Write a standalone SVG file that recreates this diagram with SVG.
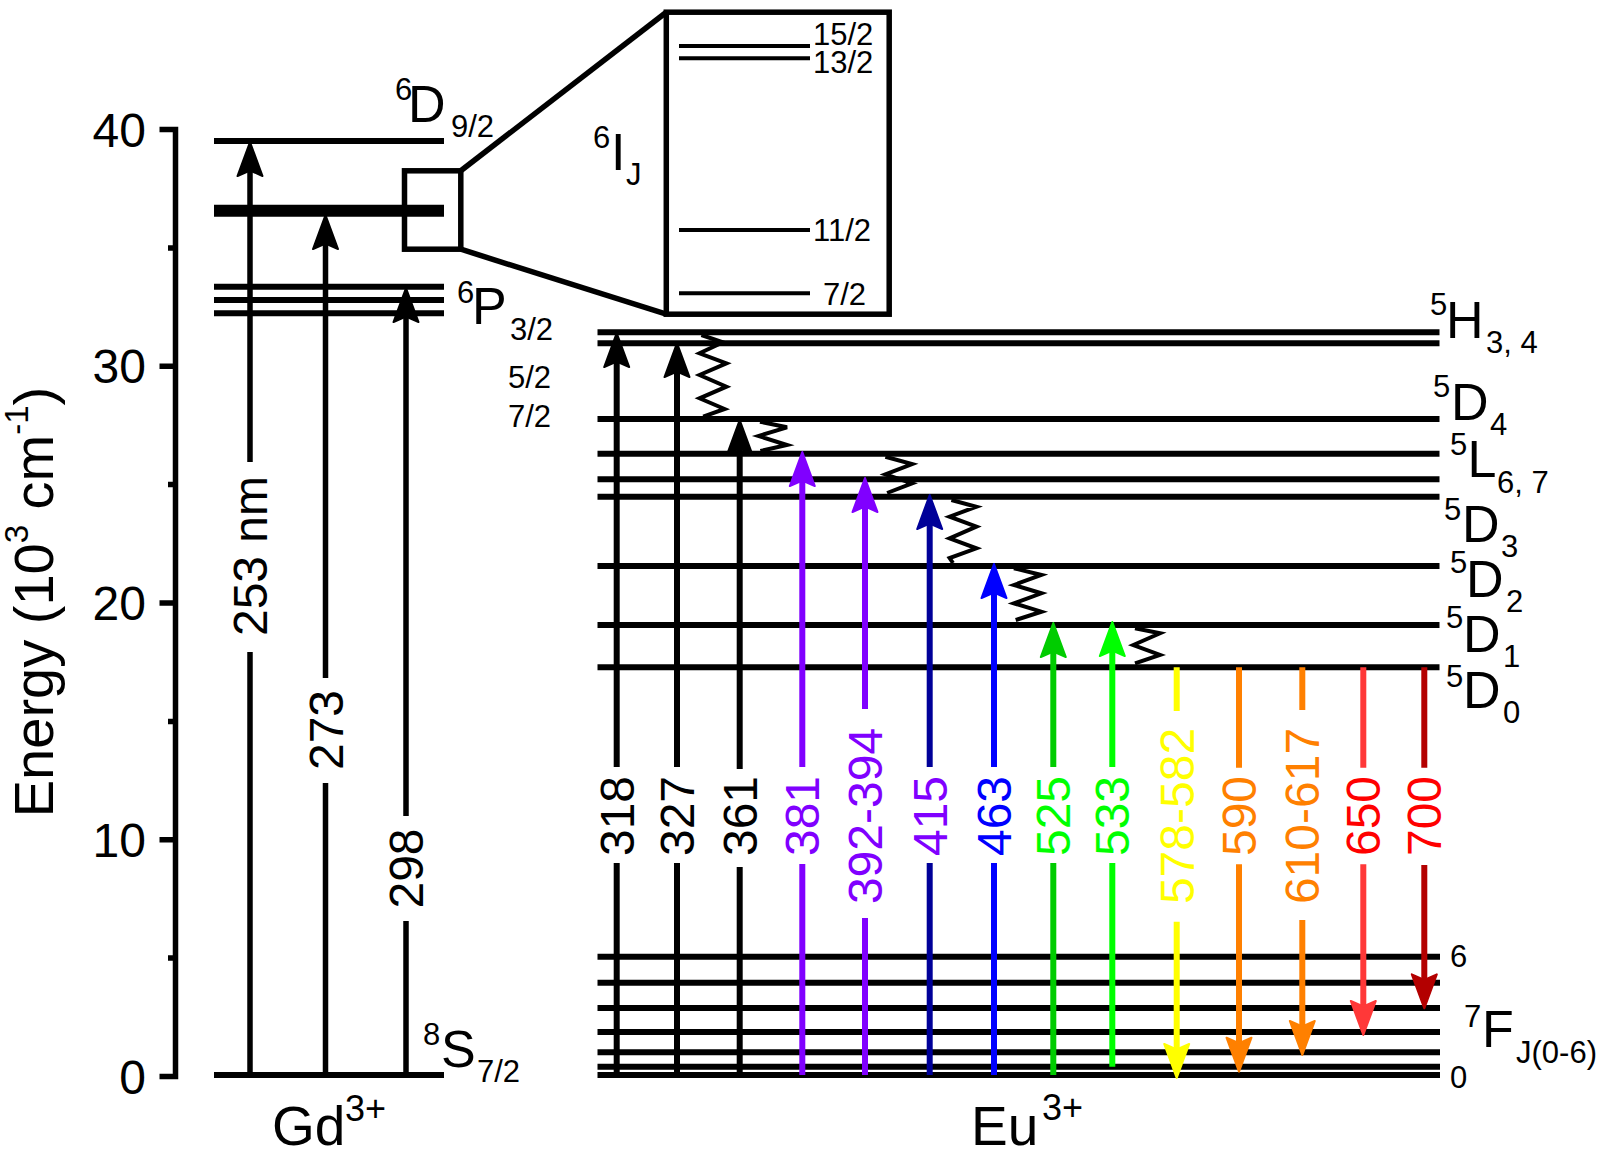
<svg xmlns="http://www.w3.org/2000/svg" width="1600" height="1149" viewBox="0 0 1600 1149">
<style>
text{font-family:"Liberation Sans",Arial,Helvetica,sans-serif}
.lv{stroke:#000;stroke-width:6;fill:none}
.big{font-size:52px}
.sm{font-size:31px}
.wl{font-size:48px;text-anchor:middle}
.sh{stroke-width:6;fill:none}
.gs{stroke:#000;stroke-width:5.5;fill:none}
.zz{stroke:#000;stroke-width:4;fill:none}
.ax{stroke:#000;stroke-width:5.5;fill:none}
.tk{font-size:48px;text-anchor:end}
.bx{stroke:#000;stroke-width:5.5;fill:none}
.il{stroke:#000;stroke-width:4;fill:none}
.ion{font-size:55px}
.ionsup{font-size:36px}
</style>
<defs>
<path id="hu" d="M0,0 L12.5,34 L0,28.5 L-12.5,34 Z" stroke-width="2" stroke-linejoin="round"/>
</defs>
<rect width="1600" height="1149" fill="#fff"/>

<g id="axis">
<path class="ax" d="M159.5,129.5 H175.5 V1076.5 H159.5"/>
<path class="ax" d="M159.5,839.75 H175.5 M159.5,603 H175.5 M159.5,366.25 H175.5 M168,958.1 H175.5 M168,721.4 H175.5 M168,484.6 H175.5 M168,247.9 H175.5"/>
<text class="tk" x="146" y="1093.5">0</text>
<text class="tk" x="146" y="856.75">10</text>
<text class="tk" x="146" y="620">20</text>
<text class="tk" x="146" y="383.25">30</text>
<text class="tk" x="146" y="146.5">40</text>
<text transform="translate(53,602) rotate(-90)" text-anchor="middle" font-size="56">Energy (10<tspan font-size="33" dy="-25">3</tspan><tspan dy="25"> cm</tspan><tspan font-size="33" dy="-25">-1</tspan><tspan dy="25">)</tspan></text>
</g>

<g id="gd-8S72">
<line class="lv" x1="214" y1="1075" x2="444" y2="1075"/>
<text class="big"><tspan class="sm" x="423" y="1045">8</tspan><tspan x="441" y="1067">S</tspan><tspan class="sm" x="477" y="1082">7/2</tspan></text>
</g>
<g id="gd-6P">
<line class="lv" x1="214" y1="286.7" x2="444" y2="286.7"/>
<line class="lv" x1="214" y1="300" x2="444" y2="300"/>
<line class="lv" x1="214" y1="313.3" x2="444" y2="313.3"/>
<text class="big"><tspan class="sm" x="457" y="303">6</tspan><tspan x="472" y="324">P</tspan><tspan class="sm" x="510" y="340">3/2</tspan></text>
<text class="sm" x="508" y="388">5/2</text>
<text class="sm" x="508" y="427">7/2</text>
</g>
<g id="gd-6I">
<line x1="214" y1="210.7" x2="444" y2="210.7" stroke="#000" stroke-width="12"/>
<rect class="bx" x="404.5" y="170.8" width="56.3" height="78.4"/>
</g>
<g id="gd-6D92">
<line class="lv" x1="214" y1="141" x2="444" y2="141"/>
<text class="big"><tspan class="sm" x="395" y="100">6</tspan><tspan x="408" y="121.7">D</tspan><tspan class="sm" x="451" y="136.7">9/2</tspan></text>
</g>
<g id="gd-label">
<text class="ion"><tspan x="272" y="1145">Gd</tspan><tspan class="ionsup" x="345" y="1121">3+</tspan></text>
</g>

<g id="inset-6IJ">
<line class="bx" x1="460.8" y1="170.8" x2="666.3" y2="12.2"/>
<line class="bx" x1="460.8" y1="249.2" x2="666.3" y2="314.2"/>
<rect class="bx" x="666.3" y="12.2" width="222.9" height="302"/>
<line class="il" x1="679" y1="46" x2="810" y2="46"/>
<line class="il" x1="679" y1="58.3" x2="810" y2="58.3"/>
<line class="il" x1="679" y1="230" x2="810" y2="230"/>
<line class="il" x1="679" y1="293.3" x2="810" y2="293.3"/>
<text class="sm" x="813" y="45">15/2</text>
<text class="sm" x="813" y="72.7">13/2</text>
<text class="sm" x="813" y="240.7">11/2</text>
<text class="sm" x="823" y="305">7/2</text>
<text class="big"><tspan class="sm" x="593" y="148.3">6</tspan><tspan x="611" y="170">I</tspan><tspan class="sm" x="626" y="185">J</tspan></text>
</g>

<g id="eu-5H34">
<line class="lv" x1="597.5" y1="332.3" x2="1439.5" y2="332.3"/>
<line class="lv" x1="597.5" y1="343.3" x2="1439.5" y2="343.3"/>
<text class="big"><tspan class="sm" x="1430" y="315">5</tspan><tspan x="1446" y="338">H</tspan><tspan class="sm" x="1486" y="353">3, 4</tspan></text>
</g>
<g id="eu-5D4">
<line class="lv" x1="597.5" y1="419" x2="1439.5" y2="419"/>
<text class="big"><tspan class="sm" x="1433" y="397">5</tspan><tspan x="1451" y="420">D</tspan><tspan class="sm" x="1490" y="435">4</tspan></text>
</g>
<g id="eu-5L67">
<line class="lv" x1="597.5" y1="453.7" x2="1439.5" y2="453.7"/>
<line class="lv" x1="597.5" y1="479.3" x2="1439.5" y2="479.3"/>
<text class="big"><tspan class="sm" x="1450" y="455">5</tspan><tspan x="1467.5" y="476.7">L</tspan><tspan class="sm" x="1497" y="492.7">6, 7</tspan></text>
</g>
<g id="eu-5D3">
<line class="lv" x1="597.5" y1="496.7" x2="1439.5" y2="496.7"/>
<text class="big"><tspan class="sm" x="1444" y="520">5</tspan><tspan x="1462" y="541.7">D</tspan><tspan class="sm" x="1501" y="557">3</tspan></text>
</g>
<g id="eu-5D2">
<line class="lv" x1="597.5" y1="566" x2="1439.5" y2="566"/>
<text class="big"><tspan class="sm" x="1450" y="573">5</tspan><tspan x="1466" y="596.7">D</tspan><tspan class="sm" x="1506" y="611.7">2</tspan></text>
</g>
<g id="eu-5D1">
<line class="lv" x1="597.5" y1="625" x2="1439.5" y2="625"/>
<text class="big"><tspan class="sm" x="1446" y="628">5</tspan><tspan x="1463" y="651.7">D</tspan><tspan class="sm" x="1503" y="666.7">1</tspan></text>
</g>
<g id="eu-5D0">
<line class="lv" x1="597.5" y1="667.3" x2="1439.5" y2="667.3"/>
<text class="big"><tspan class="sm" x="1446" y="686.7">5</tspan><tspan x="1463" y="708.3">D</tspan><tspan class="sm" x="1503" y="723">0</tspan></text>
</g>
<g id="eu-7F">
<line class="lv" x1="597.5" y1="956.7" x2="1440" y2="956.7"/>
<line class="lv" x1="597.5" y1="982.7" x2="1440" y2="982.7"/>
<line class="lv" x1="597.5" y1="1008" x2="1440" y2="1008"/>
<line class="lv" x1="597.5" y1="1032" x2="1440" y2="1032"/>
<line class="lv" x1="597.5" y1="1052.3" x2="1440" y2="1052.3"/>
<line class="lv" x1="597.5" y1="1066.7" x2="1440" y2="1066.7"/>
<line class="lv" x1="597.5" y1="1075" x2="1440" y2="1075"/>
<text class="sm" x="1450" y="967.3">6</text>
<text class="sm" x="1450" y="1088.3">0</text>
<text class="big"><tspan class="sm" x="1464" y="1026.7">7</tspan><tspan x="1482" y="1046.7">F</tspan><tspan font-size="31" x="1516" y="1063">J(0-6)</tspan></text>
</g>
<g id="eu-label">
<text class="ion"><tspan x="971" y="1145">Eu</tspan><tspan class="ionsup" x="1042" y="1120">3+</tspan></text>
</g>

<g id="connectors">
<g id="gd-253">
<path class="gs" d="M250,1075 V652 M250,462 V170"/>
<use href="#hu" x="250" y="142" fill="#000" stroke="#000"/>
<text class="wl" transform="translate(267,556) rotate(-90)">253 nm</text>
</g>
<g id="gd-273">
<path class="gs" d="M325.5,1075 V783 M325.5,678 V243"/>
<use href="#hu" x="325.5" y="215" fill="#000" stroke="#000"/>
<text class="wl" transform="translate(342.5,730) rotate(-90)">273</text>
</g>
<g id="gd-298">
<path class="gs" d="M406,1075 V921 M406,816 V316"/>
<use href="#hu" x="406" y="288" fill="#000" stroke="#000"/>
<text class="wl" transform="translate(423,868.5) rotate(-90)">298</text>
</g>

<g id="eu-318">
<path class="sh" stroke="#000" d="M616.7,1075 V863 M616.7,767 V360"/>
<use href="#hu" x="616.7" y="333" fill="#000" stroke="#000"/>
<text class="wl" transform="translate(633.7,816) rotate(-90)">318</text>
</g>
<g id="eu-327">
<path class="sh" stroke="#000" d="M677,1075 V863 M677,767 V370"/>
<use href="#hu" x="677" y="343" fill="#000" stroke="#000"/>
<text class="wl" transform="translate(694,816) rotate(-90)">327</text>
</g>
<g id="eu-361">
<path class="sh" stroke="#000" d="M739.7,1075 V867 M739.7,769 V447"/>
<use href="#hu" x="739.7" y="420" fill="#000" stroke="#000"/>
<text class="wl" transform="translate(756.7,816) rotate(-90)">361</text>
</g>
<g id="eu-381">
<path class="sh" stroke="#8000FF" d="M802.3,1075 V864 M802.3,767 V479"/>
<use href="#hu" x="802.3" y="452" fill="#8000FF" stroke="#8000FF"/>
<text class="wl" fill="#8000FF" transform="translate(819.3,816) rotate(-90)">381</text>
</g>
<g id="eu-392">
<path class="sh" stroke="#8000FF" d="M865,1075 V918 M865,709 V505"/>
<use href="#hu" x="865" y="478" fill="#8000FF" stroke="#8000FF"/>
<text class="wl" fill="#8000FF" transform="translate(882,816) rotate(-90)">392-394</text>
</g>
<g id="eu-415">
<path class="sh" stroke="#000099" d="M929.7,1075 V863 M929.7,767 V522"/>
<use href="#hu" x="929.7" y="495" fill="#000099" stroke="#000099"/>
<text class="wl" fill="#8000FF" transform="translate(946.7,816) rotate(-90)">415</text>
</g>
<g id="eu-463">
<path class="sh" stroke="#0000FF" d="M994,1075 V863 M994,767 V591"/>
<use href="#hu" x="994" y="564" fill="#0000FF" stroke="#0000FF"/>
<text class="wl" fill="#0000FF" transform="translate(1011,816) rotate(-90)">463</text>
</g>
<g id="eu-525">
<path class="sh" stroke="#00CC00" d="M1053.3,1075 V863 M1053.3,767 V650"/>
<use href="#hu" x="1053.3" y="623" fill="#00CC00" stroke="#00CC00"/>
<text class="wl" fill="#00FF00" transform="translate(1070.3,816) rotate(-90)">525</text>
</g>
<g id="eu-533">
<path class="sh" stroke="#00FF00" d="M1112.3,1066.7 V863 M1112.3,767 V649"/>
<use href="#hu" x="1112.3" y="622" fill="#00FF00" stroke="#00FF00"/>
<text class="wl" fill="#00FF00" transform="translate(1129.3,816) rotate(-90)">533</text>
</g>

<g id="eu-578">
<path class="sh" stroke="#FFFF00" d="M1176.7,667.3 V711 M1176.7,921.7 V1051"/>
<use href="#hu" transform="translate(1176.7,1078) rotate(180)" fill="#FFFF00" stroke="#FFFF00"/>
<text class="wl" fill="#FFFF00" transform="translate(1193.7,816) rotate(-90)">578-582</text>
</g>
<g id="eu-590">
<path class="sh" stroke="#FF8000" d="M1239,667.3 V767.7 M1239,864.3 V1045"/>
<use href="#hu" transform="translate(1239,1071.7) rotate(180)" fill="#FF8000" stroke="#FF8000"/>
<text class="wl" fill="#FF8000" transform="translate(1256,816) rotate(-90)">590</text>
</g>
<g id="eu-610">
<path class="sh" stroke="#FF8000" d="M1302.3,667.3 V710 M1302.3,920 V1028"/>
<use href="#hu" transform="translate(1302.3,1055) rotate(180)" fill="#FF8000" stroke="#FF8000"/>
<text class="wl" fill="#FF8000" transform="translate(1319.3,816) rotate(-90)">610-617</text>
</g>
<g id="eu-650">
<path class="sh" stroke="#FF3838" d="M1363.3,667.3 V767.7 M1363.3,864.3 V1008"/>
<use href="#hu" transform="translate(1363.3,1035) rotate(180)" fill="#FF3838" stroke="#FF3838"/>
<text class="wl" fill="#FF0000" transform="translate(1380.3,816) rotate(-90)">650</text>
</g>
<g id="eu-700">
<path class="sh" stroke="#B30000" d="M1424.3,667.3 V767.7 M1424.3,865 V981"/>
<use href="#hu" transform="translate(1424.3,1008.3) rotate(180)" fill="#B30000" stroke="#B30000"/>
<text class="wl" fill="#FF0000" transform="translate(1441.3,816) rotate(-90)">700</text>
</g>

<polyline class="zz" points="701.4,335 722.9,342.3 699.6,353.3 726.4,363.3 699.6,375 726.4,386.7 699.6,398.3 724.6,409 703.2,416.7"/>
<polyline class="zz" points="760,421.7 787,427.3 758.6,436 787,445 760.4,451"/>
<polyline class="zz" points="885.4,456.7 912.1,464 885.4,474.3 912.1,483.3 887.1,493"/>
<polyline class="zz" points="951.4,500 976.4,506.7 949.6,516.7 976.4,526.7 949.6,538.3 976.4,548.3 949.6,558 953,563"/>
<polyline class="zz" points="1013.9,568.3 1041.4,575 1013.9,585 1041.4,593.3 1013.9,603.3 1041.4,611.7 1015.7,620"/>
<polyline class="zz" points="1135,628.3 1160,633.3 1133.3,645 1160,655 1135,663.3"/>
</g>
</svg>
